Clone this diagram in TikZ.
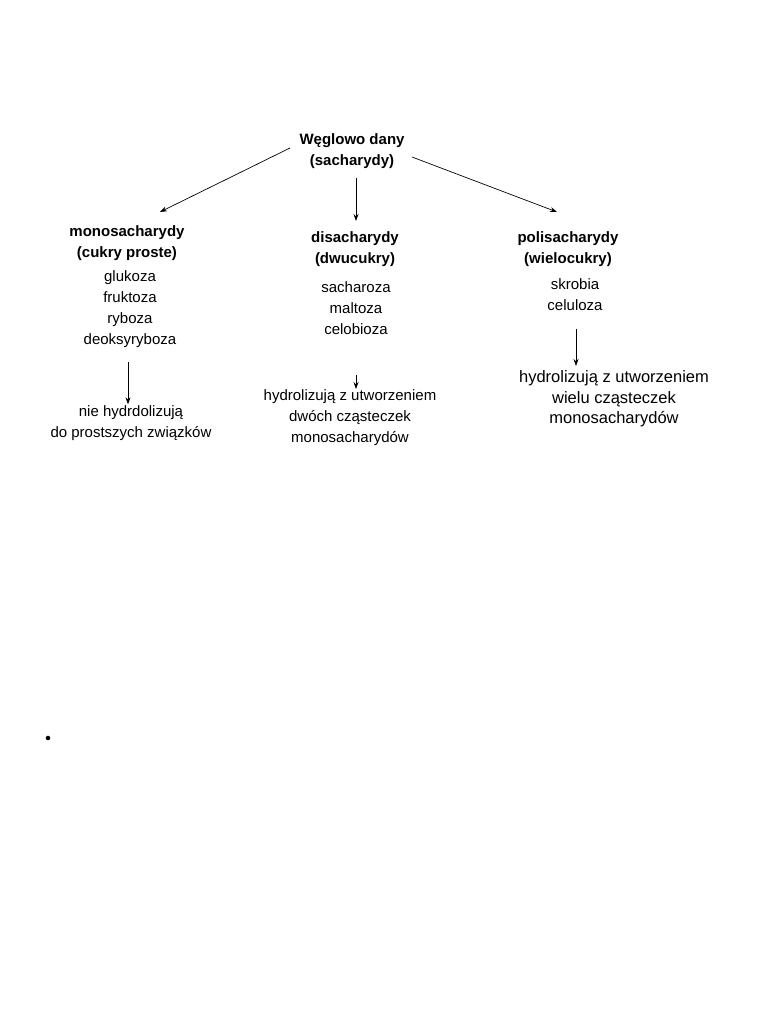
\documentclass[tikz,border=0pt]{standalone}
\usepackage{fontspec}
\setmainfont{Liberation Sans}
\usetikzlibrary{arrows.meta}
\begin{document}
\begin{tikzpicture}[x=1pt,y=-1pt,
  txt/.style={align=center,inner sep=1pt,font=\fontsize{15}{21}\selectfont},
  hd/.style={txt,font=\fontsize{15}{21}\selectfont\bfseries},
  big/.style={txt,font=\fontsize{16.5}{20.5}\selectfont},
  arr/.style={-{Stealth[length=7pt,width=5pt]},line width=0.7pt}]
\useasboundingbox (0,0) rectangle (768,1024);
\node[hd] (root) at (352,151) {Węglowo dany\\(sacharydy)};
\node[hd] (mono) at (127,243) {monosacharydy\\(cukry proste)};
\node[txt] (monol) at (130,309) {glukoza\\fruktoza\\ryboza\\deoksyryboza};
\node[txt] (monor) at (131,423) {nie hydrdolizują\\do prostszych związków};
\node[hd] (di) at (355,249) {disacharydy\\(dwucukry)};
\node[txt] (dil) at (356,308) {sacharoza\\maltoza\\celobioza};
\node[txt] (dir) at (350,418) {hydrolizują z utworzeniem\\dwóch cząsteczek\\monosacharydów};
\node[hd] (poli) at (568,249) {polisacharydy\\(wielocukry)};
\node[txt] (polil) at (575,295) {skrobia\\celuloza};
\node[big] (polir) at (614,399) {hydrolizują z utworzeniem\\wielu cząsteczek\\monosacharydów};
\coordinate (r1) at (290,148); \coordinate (m1) at (160,212);
\coordinate (r2) at (356,178); \coordinate (d1) at (356,221);
\coordinate (r3) at (412,157); \coordinate (p1) at (557,212);
\draw[arr] (r1) -- (m1);
\draw[arr] (r2) -- (d1);
\draw[arr] (r3) -- (p1);
\draw[arr] (128,362) -- (monor.north -| 128,0);
\draw[arr] (356,375) -- (356,389);
\draw[arr] (576,329) -- (576,366);
\node[circle,fill,inner sep=1.6pt] (bul) at (48,738) {};
\end{tikzpicture}
\end{document}
